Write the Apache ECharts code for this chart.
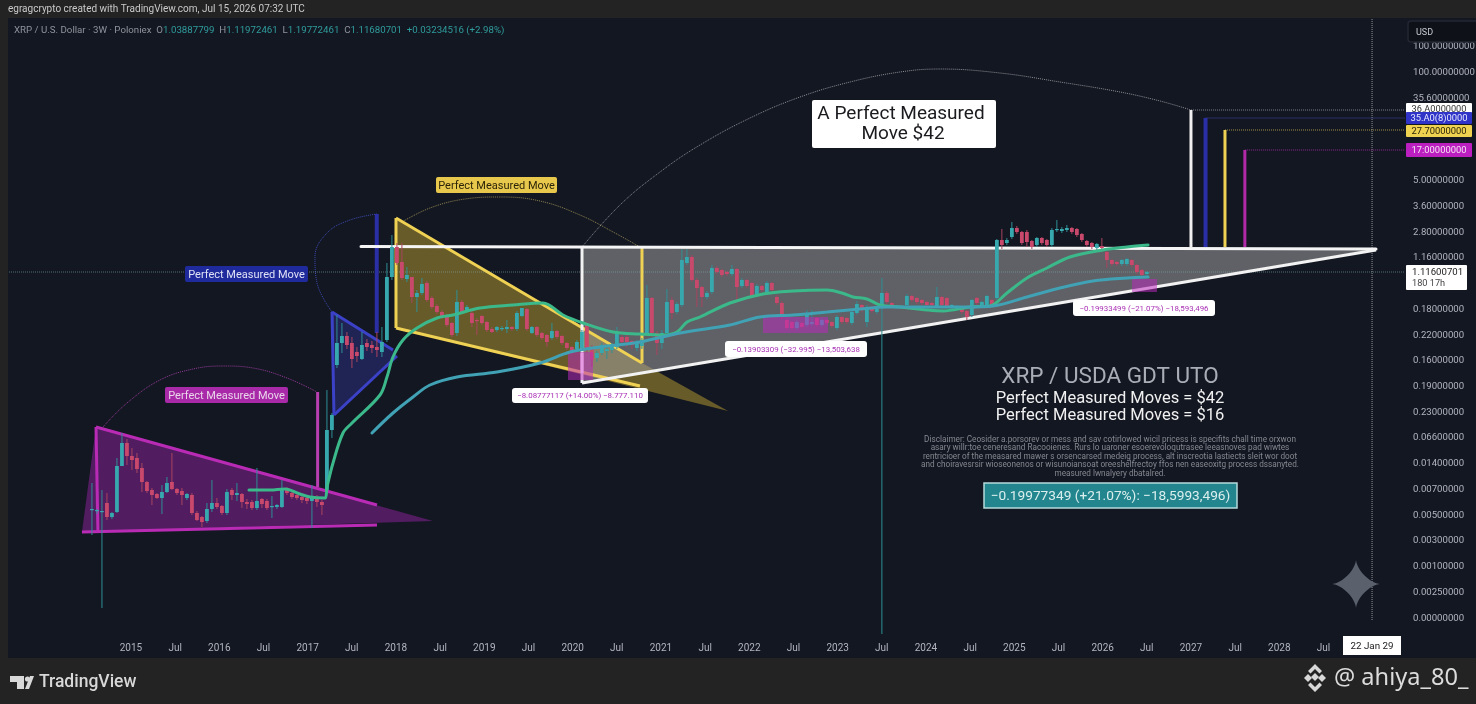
<!DOCTYPE html>
<html><head><meta charset="utf-8">
<style>html,body{margin:0;padding:0;background:#232323}#c{width:1476px;height:704px}</style>
<script src="https://cdn.jsdelivr.net/npm/echarts@6/dist/echarts.min.js"></script>
</head><body><div id="c"></div>
<script>
// x values are decimal years; y values are positions on the chart's price rail,
// whose printed tick labels (below) are not monotonic in the source.
const firstCandleYear = 2014.558, candleStepYears = 0.0566;
// [open, close, low, high]
const candleRows = [
[107,108,82,134],[106,107,103,108],[105,106,9,127],[114,100,97,124],[100,104,98,105],[105,151,104,159],[151,174,151,184],[174,161,152,178],
[161,157,147,169],[159,148,144,164],[149,135,125,154],[135,126,124,136],[127,122,112,129],[123,119,118,124],[119,125,103,132],[125,134,124,140],
[135,128,127,164],[128,124,122,129],[126,122,112,129],[119,123,117,124],[122,104,102,124],[104,97,96,106],[100,95,90,101],[96,108,94,114],
[108,114,105,137],[114,110,108,119],[111,104,102,112],[104,125,102,128],[127,122,117,129],[122,124,116,134],[123,115,109,124],[115,113,108,118],
[115,109,107,117],[109,116,107,149],[118,113,109,119],[116,109,107,118],[111,111,99,121],[110,112,108,113],[110,127,109,137],[128,124,122,130],
[124,120,118,126],[122,119,117,123],[120,117,114,122],[119,116,113,120],[116,119,89,132],[119,115,110,122],[115,112,102,117],[127,187,124,227],
[187,202,179,204],[252,274,249,302],[274,281,264,294],[281,272,268,285],[274,258,249,280],[265,261,255,270],[258,272,257,285],[274,270,266,278],
[272,269,264,276],[270,267,260,285],[265,275,260,290],[277,340,275,354],[340,370,337,382],[370,354,352,374],[355,339,337,374],[338,342,335,350],
[340,320,314,340],[320,324,305,327],[324,333,322,339],[334,317,315,336],[319,310,308,321],[311,305,303,313],[305,300,298,307],[301,292,290,303],
[294,282,280,295],[284,315,281,327],[315,305,303,317],[307,310,305,312],[304,294,290,306],[297,296,282,299],[301,294,292,302],[295,287,285,296],
[288,285,284,290],[287,290,285,291],[288,289,286,291],[288,290,284,297],[290,288,286,291],[288,304,286,306],[301,309,300,309],[308,288,286,309],
[284,290,283,291],[290,282,280,291],[284,279,277,285],[282,275,270,283],[279,286,277,294],[286,280,278,287],[281,274,272,282],[274,269,267,275],
[270,265,263,271],[268,275,266,277],[269,285,267,287],[293,267,264,295],[270,257,250,272],[259,264,255,266],[264,272,262,274],[266,268,258,272],
[267,272,264,274],[270,285,268,290],[280,275,272,282],[280,275,270,283],[276,272,268,277],[269,275,266,277],[271,277,268,279],[284,319,282,332],
[319,284,280,320],[284,274,262,286],[274,284,268,287],[284,315,282,328],[317,304,298,320],[305,313,303,315],[312,357,310,368],[354,360,352,368],
[360,337,335,362],[337,329,310,339],[330,320,310,331],[320,324,318,326],[325,349,323,352],[349,345,343,351],[347,342,340,348],[345,343,341,346],
[343,348,341,352],[348,330,317,349],[331,337,329,339],[337,331,329,338],[334,321,319,335],[322,331,320,333],[331,327,325,332],[325,334,323,336],
[334,327,325,335],[320,314,312,322],[314,302,298,316],[297,289,287,299],[295,289,287,296],[289,295,287,297],[294,290,288,295],[292,302,290,307],
[293,295,291,307],[299,292,290,300],[292,297,290,299],[297,294,292,298],[295,291,289,296],[289,300,287,302],[300,295,293,301],[299,295,293,300],
[294,305,292,307],[304,313,302,316],[312,307,305,313],[295,309,290,312],[310,306,304,311],[305,308,303,310],[309,324,-17,339],[324,315,313,326],
[314,311,309,315],[309,311,308,312],[309,310,308,312],[312,321,310,323],[321,317,315,322],[319,315,313,320],[317,314,312,318],[315,312,310,316],
[314,312,310,315],[311,320,309,330],[320,312,310,321],[319,311,309,320],[310,312,308,313],[309,311,307,312],[309,305,303,310],[306,300,297,307],
[302,317,300,318],[319,314,312,320],[312,315,310,316],[312,321,310,322],[317,312,310,318],[319,377,317,378],[377,372,368,388],[374,377,372,379],
[380,389,378,395],[389,385,383,391],[385,374,372,386],[385,375,370,387],[376,370,368,377],[372,379,370,380],[379,374,372,380],[377,372,370,378],
[372,387,370,389],[387,388,385,397],[386,388,384,390],[387,389,385,392],[389,385,383,390],[388,382,380,389],[383,377,375,384],[376,372,370,377],
[374,370,368,375],[369,373,367,374],[371,369,367,379],[365,357,349,366],[357,353,351,358],[355,353,351,356],[353,357,351,358],[353,358,351,359],
[357,352,350,358],[352,345,343,353],[347,342,340,348],[343,345,341,346]
];

const greenAverage = [[2016.336,127],[2016.574,127],[2016.743,128],[2016.913,123],[2017.026,120],[2017.196,119],[2017.219,130],[2017.287,154],[2017.4,184],[2017.502,194],[2017.819,222],[2017.898,240],[2017.966,260],[2018.079,277],[2018.238,289],[2018.464,299],[2018.645,302],[2018.951,309],[2019.325,312],[2019.664,314],[2019.891,302],[2020.117,294],[2020.457,285],[2020.762,283],[2021.023,282],[2021.181,285],[2021.295,295],[2021.442,300],[2021.781,314],[2022.155,323],[2022.495,326],[2022.88,327],[2023.049,324],[2023.174,320],[2023.332,318],[2023.479,312],[2023.706,310],[2024.012,307],[2024.193,306],[2024.498,310],[2024.725,311],[2024.917,324],[2025.144,339],[2025.37,349],[2025.63,360],[2026.004,367],[2026.276,370],[2026.514,372]];
const tealAverage = [[2017.728,184],[2017.966,204],[2018.193,220],[2018.385,232],[2018.691,240],[2019.143,245],[2019.63,254],[2019.97,265],[2020.31,270],[2020.762,275],[2021.215,284],[2021.781,292],[2022.121,300],[2022.495,302],[2022.88,305],[2023.253,308],[2023.559,310],[2024.012,310],[2024.464,310],[2024.759,311],[2025.144,320],[2025.517,329],[2025.891,336],[2026.276,339],[2026.514,340]];

// Pattern drawings
const purpleFill = [[2014.604,190],[2018.419,96],[2014.445,85]];
const purpleTop = [[2014.604,190],[2017.785,112]];
const purpleBottom = [[2014.445,85],[2017.785,92]];
const purpleLeft = [[2014.604,190],[2014.626,85]];
const purpleTarget = [[2017.113,130],[2017.113,225]];
const purpleArc = [[2014.683,190],[2014.955,214],[2015.328,237],[2015.702,248],[2016.042,251],[2016.381,249],[2016.766,239],[2017.106,225]];
const blueFill = [[2017.276,305],[2017.966,267],[2018.011,261],[2017.298,202]];
const blueTop = [[2017.276,305],[2017.966,267]];
const blueBottom = [[2018.011,261],[2017.298,202]];
const blueLeft = [[2017.276,305],[2017.298,202]];
const blueTarget = [[2017.782,284],[2017.782,403]];
const blueArc = [[2017.785,403],[2017.479,397],[2017.219,384],[2017.083,360],[2017.106,334],[2017.276,305]];
const yellowFill = [[2018,399],[2020.785,254],[2021.759,206],[2018,289]];
const yellowTop = [[2018,399],[2020.785,254]];
const yellowBottom = [[2018,289],[2020.762,231]];
const yellowLeft = [[2018,399],[2018,289]];
const yellowTarget = [[2020.785,254],[2020.785,369]];
const yellowArc = [[2018.068,395],[2018.385,409],[2018.781,418],[2019.178,420],[2019.63,416],[2020.083,402],[2020.479,384],[2020.762,370]];
const whiteFill = [[2020.106,370],[2029.095,368],[2020.106,234]];
const whiteTop = [[2017.604,370.5],[2029.095,368]];
const whiteBottom = [[2020.106,234],[2029.095,367]];
const whiteLeft = [[2020.106,234],[2020.106,370]];
const whiteArc = [[2020.106,370],[2020.536,412],[2020.989,445],[2021.442,472],[2022.008,499],[2022.574,520],[2023.14,535],[2023.706,545],[2024.159,548],[2024.838,544],[2025.517,535],[2026.197,525],[2026.65,516],[2027,507]];
const dipZones = [[[2019.947,265],[2020.23,265],[2020.23,237],[2019.947,237]],[[2022.155,300],[2022.891,300],[2022.891,284],[2022.155,284]],[[2026.333,338],[2026.615,338],[2026.615,325],[2026.333,325]]];
const dipHighlight = [[2020.106,264],[2020.106,244]];

const targetWhite = [[2027,370],[2027,507]], targetBlue = [[2027.165,370],[2027.165,499]], targetYellow = [[2027.385,370],[2027.385,487]], targetMagenta = [[2027.61,370],[2027.61,467]];
const levelWhite = [[2027,507],[2029.423,507]], levelBlue = [[2027.165,499],[2029.423,499]], levelYellow = [[2027.385,487],[2029.423,487]], levelMagenta = [[2027.61,467],[2029.423,467]];
const lastPriceLine = [[2013.619,345],[2029.423,345]];
const crossLine = [[2029.05,-3],[2029.05,599]];

const yearTicks = [2015,2015.5,2016,2016.5,2017,2017.5,2018,2018.5,2019,2019.5,2020,2020.5,2021,2021.5,2022,2022.5,2023,2023.5,2024,2024.5,2025,2025.5,2026,2026.5,2027,2027.5,2028,2028.5];
const priceTickPositions = [570,544,518,436,410,384,359,307,281,256,230,204,179,153,127,101,76,50,24,-2];
const priceTickLabels = ['100.00000000','100.00000000','35.60000000','5.00000000','3.60000000','2.80000000','1.16000000','0.18000000','0.22000000','0.16000000','0.19000000','0.23000000','0.06600000','0.01400000','0.00700000','0.00500000','0.00300000','0.00100000','0.00250000','0.00000000'];

const FONT='Roboto, "Noto Sans", sans-serif';
const TEAL='#37a8ae', RED='#c9496c', MAGENTA='#b92bb5', YELLOW='#efd154';

function poly(pts,fill,z){return {type:'custom',coordinateSystem:'cartesian2d',silent:true,z:z,clip:true,data:[[pts[0][0],pts[0][1]]],
  encode:{x:0,y:1},renderItem:(p,api)=>({type:'polygon',shape:{points:pts.map(q=>api.coord(q))},style:{fill:fill}})};}
function line(pts,color,width,z,opt){opt=opt||{};return {type:'line',data:pts,showSymbol:false,silent:true,z:z,smooth:opt.smooth||false,
  lineStyle:{color:color,width:width,type:opt.type||'solid',opacity:opt.opacity==null?1:opt.opacity,cap:opt.cap||'butt'},animation:false};}

const candleSeries={type:'custom',coordinateSystem:'cartesian2d',silent:true,z:5,clip:true,
  encode:{x:0,y:[1,2,3,4]},
  data:candleRows.map((r,i)=>[firstCandleYear+i*candleStepYears,r[0],r[1],r[2],r[3]]),
  renderItem:(p,api)=>{
    const x=api.value(0),o=api.value(1),c=api.value(2),l=api.value(3),h=api.value(4);
    const up=c>=o, body=up?TEAL:RED, wick=up?'#2e8f94':'#a9445f';
    const pH=api.coord([x,h]),pL=api.coord([x,l]),pO=api.coord([x,Math.max(o,c)]),pC=api.coord([x,Math.min(o,c)]);
    const bw=3.8, bh=Math.max(pC[1]-pO[1],1.2);
    return {type:'group',children:[
      {type:'line',shape:{x1:pH[0],y1:pH[1],x2:pL[0],y2:pL[1]},style:{stroke:wick,lineWidth:1}},
      {type:'rect',shape:{x:pO[0]-bw/2,y:pO[1],width:bw,height:bh},style:{fill:body}}
    ]};
  }};

const series=[
  poly(purpleFill,'rgba(150,35,165,0.48)',1),
  poly(blueFill,'rgba(55,60,175,0.36)',1),
  poly(yellowFill,'rgba(190,160,50,0.50)',1),
  poly(whiteFill,'rgba(165,165,165,0.52)',1),
  ...dipZones.map(z=>poly(z,'rgba(190,40,190,0.52)',6)),
  line(dipHighlight,'#e79be2',3,6),
  line(purpleArc,'rgba(190,70,190,0.75)',1,2,{smooth:.4,type:'dotted'}),
  line(blueArc,'rgba(70,85,210,0.8)',1,2,{smooth:.4,type:'dotted'}),
  line(yellowArc,'rgba(225,205,110,0.6)',1,2,{smooth:.4,type:'dotted'}),
  line(whiteArc,'rgba(205,205,205,0.65)',1,2,{smooth:.4,type:'dotted'}),
  line(lastPriceLine,'rgba(120,170,170,0.6)',1,2,{type:'dotted'}),
  line(crossLine,'rgba(200,200,200,0.7)',1,2,{type:'dotted'}),
  line(levelWhite,'rgba(200,200,200,0.6)',1,2,{type:'dotted'}),
  line(levelBlue,'rgba(80,90,210,0.75)',1,2,{type:'dotted'}),
  line(levelYellow,'rgba(225,200,90,0.7)',1,2,{type:'dotted'}),
  line(levelMagenta,'rgba(190,50,180,0.75)',1,2,{type:'dotted'}),
  line(purpleTop,MAGENTA,3,3),line(purpleBottom,MAGENTA,3,3),line(purpleLeft,MAGENTA,3,3),line(purpleTarget,'#b83fb0',3,3),
  line(blueTop,'#3b42c8',3,3),line(blueBottom,'#3b42c8',3,3),line(blueLeft,'#3b42c8',3,3),line(blueTarget,'#2b2fa6',4,3),
  line(yellowTop,YELLOW,3,3),line(yellowBottom,YELLOW,3,3),line(yellowLeft,YELLOW,3,3),line(yellowTarget,YELLOW,3,3),
  line(whiteLeft,'#f2f2f2',3,3),line(whiteBottom,'#f2f2f2',3,3),line(whiteTop,'#f5f5f5',3,3,{cap:'round'}),
  line(targetWhite,'#f0f0f0',3,3),line(targetBlue,'#2b2fa6',4,3),line(targetYellow,YELLOW,3,3),line(targetMagenta,'#b02aa8',3,3),
  candleSeries,
  line(greenAverage,'#3cb98a',3,7,{smooth:.35,cap:'round'}),
  line(tealAverage,'#40a2b4',3,7,{smooth:.35,cap:'round'}),
];

function txt(x,y,t,size,fill,extra){return {type:'text',z:30,x:x,y:y+1.5,silent:true,style:Object.assign({text:t,fontFamily:FONT,fontSize:size,fill:fill,textAlign:'left',textVerticalAlign:'middle'},extra||{})};}
function box(x,y,w,h,fill,r,stroke){return {type:'rect',z:29,silent:true,shape:{x:x,y:y,width:w,height:h,r:r||0},style:{fill:fill,stroke:stroke||null,lineWidth:stroke?1.5:0}};}
function tag(x,y,w,h,fill,t,size,color,r,stroke){return [box(x,y,w,h,fill,r,stroke),txt(x+w/2,y+h/2-0.5,t,size,color,{textAlign:'center'})];}
function pg(points,fill){return {type:'polygon',z:30,silent:true,shape:{points:points},style:{fill:fill}};}
function astroid(cx,cy,R,fill){const pts=[];for(let a=0;a<64;a++){const t=a/64*Math.PI*2,c=Math.cos(t),s=Math.sin(t);pts.push([cx+R*c*c*c,cy+R*s*s*s]);}return pg(pts,fill);}

const disclaimer=[
'Disclaimer: Ceosider a.porsorev or mess and sav cotirlowed wicil pricess is specifits chall time orxwon',
'asary willr:toe ceneresand Racooienes. Rurs lo uaroner esoerevoloqutrasee leeasnoves pad wiwtes',
'rentricioer of the measared mawer s orsencarsed medeig process, alt inscreotia lastiects sleit wor doot',
'and choiravesrsir wioseonenos or wisunoiansoat oreeshelfrectoy ffos nen easeoxitg process dssanyted.',
'measured lwnalyery dbatalred.'];

const graphics=[
  {type:'rect',z:-1,silent:true,shape:{x:8,y:18,width:1468,height:640},style:{fill:'#131722'}},
  txt(8,7.5,'egragcrypto created with TradingView.com, Jul 15, 2026 07:32 UTC',10,'#c9c9c9'),
  {type:'text',z:30,x:14,y:31,silent:true,style:{fontFamily:FONT,fontSize:9.7,textVerticalAlign:'middle',fill:'#8f939b',
    text:'XRP / U.S. Dollar · 3W · Poloniex  O{v|1.03887799}  H{v|1.11972461}  L{v|1.19772461}  C{v|1.11680701}  {v|+0.03234516 (+2.98%)}',
    rich:{v:{fill:'#2f9c9c',fontFamily:FONT,fontSize:9.7}}}},
  box(1408,21,70,21,'#0e1118',3,'#232733'),txt(1416,31,'USD',9,'#c8cad0'),
  ...tag(165,387,123,16,'#a82aa8','Perfect Measured Move',11,'#ead6ea',2),
  ...tag(185,266,123,16,'#1f2a9c','Perfect Measured Move',11,'#dfe2f5',2),
  ...tag(436,177,121,16,'#e8c84c','Perfect Measured Move',11,'#2c2408',2),
  box(812,100,184,48,'#ffffff',2),
  txt(901,113,'A Perfect Measured',19,'#1b1b1f',{textAlign:'center'}),
  txt(903,133,'Move $42',19,'#1b1b1f',{textAlign:'center'}),
  ...tag(512,388,136,15,'#ffffff','−8.08777117 (+14.00%) −8.777.110',7.9,'#a82fb4',3),
  ...tag(725,341,142,16,'#ffffff','−0.13903309 (−32.995) −13,503,638',7.9,'#a82fb4',3),
  ...tag(1073,300,142,16,'#ffffff','−0.19933499 (−21.07%) −18,593,496',7.9,'#a82fb4',3),
  txt(1110,376,'XRP / USDA GDT UTO',22.5,'#a9adb5',{textAlign:'center'}),
  txt(1110,397,'Perfect Measured Moves = $42',16.5,'#f0f0f0',{textAlign:'center'}),
  txt(1110,414,'Perfect Measured Moves = $16',16.5,'#f0f0f0',{textAlign:'center'}),
  ...disclaimer.map((s,i)=>txt(1110,438+i*8.5,s,8.2,'#85888f',{textAlign:'center'})),
  ...tag(984,483,253,25,'#23868f','−0.19977349 (+21.07%): −18,5993,496)',13.7,'#dbeeee',0,'#b5dcdc'),
  box(1406,103,66,10,'#ffffff',1),txt(1439,108.5,'36.A0000000',9.2,'#333',{textAlign:'center'}),
  ...tag(1406,112,66,12,'#2f33c8','35.A0(8)0000',9.4,'#e4e6ff',1),
  ...tag(1406,125,66,12,'#efd24f','27.70000000',9.4,'#2a2408',1),
  ...tag(1406,143,66,14,'#bb1fbf','17:00000000',9.4,'#f6e6f6',1),
  box(1406,265,61,25,'#ffffff',1),
  txt(1412,271,'1.11600701',9.6,'#222'),txt(1412,282,'180 17h',9.2,'#444'),
  ...tag(1343,636,58,19,'#ffffff','22 Jan 29',9.8,'#222',0),
  Object.assign(astroid(1356,584,24,'#5b616c'),{z:6}),
  pg([[10,676],[24,676],[24,689],[17,689],[17,682],[10,682]],'#d8d8d8'),
  {type:'circle',z:30,silent:true,shape:{cx:27.5,cy:679,r:2.6},style:{fill:'#d8d8d8'}},
  pg([[29,689],[34,676],[30,676],[25,689]],'#d8d8d8'),
  txt(39,681.5,'TradingView',17.5,'#d8d8d8',{fontWeight:500}),
  pg([[1315,673],[1319,677],[1315,681],[1311,677]],'#d8d8d8'),
  pg([[1308,674],[1312,678],[1308,682],[1304,678]],'#d8d8d8'),
  pg([[1322,674],[1326,678],[1322,682],[1318,678]],'#d8d8d8'),
  pg([[1315,664],[1322,671],[1319.5,673.5],[1315,669],[1310.5,673.5],[1308,671]],'#d8d8d8'),
  pg([[1315,692],[1322,685],[1319.5,682.5],[1315,687],[1310.5,682.5],[1308,685]],'#d8d8d8'),
  txt(1334,676.5,'@ ahiya_80_',23.6,'#dcdcdc',{fontFamily:'"Noto Sans", Roboto, sans-serif'}),
];

const chart=echarts.init(document.getElementById('c'),null,{renderer:'canvas'});
chart.setOption({
  animation:false,
  backgroundColor:'#232323',
  grid:{left:9,top:18,width:1396,height:618,containLabel:false,outerBoundsMode:'none'},
  xAxis:{type:'value',min:2013.619,max:2029.423,splitLine:{show:false},axisLine:{show:false},axisTick:{show:false},
    axisLabel:{customValues:yearTicks,color:'#b2b5be',fontFamily:FONT,fontSize:10,margin:7,
      formatter:v=>Number.isInteger(v)?String(v):'Jul'}},
  yAxis:{type:'value',position:'right',min:-19,max:599,splitLine:{show:false},axisLine:{show:false},axisTick:{show:false},
    axisLabel:{customValues:priceTickPositions,color:'#b2b5be',fontFamily:FONT,fontSize:9.6,margin:8,
      formatter:v=>priceTickLabels[priceTickPositions.indexOf(v)]||''}},
  graphic:graphics,
  series:series
});
</script></body></html>
